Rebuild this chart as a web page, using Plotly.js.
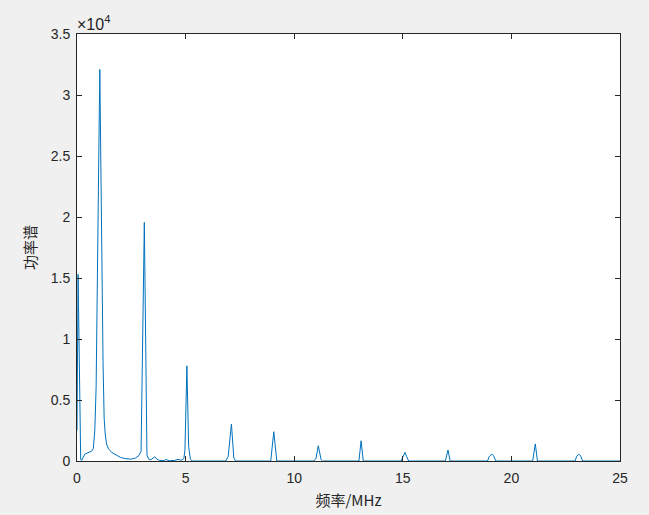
<!DOCTYPE html>
<html>
<head>
<meta charset="utf-8">
<script src="https://cdn.plot.ly/plotly-3.0.1.min.js"></script>
<style>html,body{margin:0;padding:0;background:#f0f0f0;}</style>
</head>
<body>
<div id="chart" style="width:649px;height:515px;"></div>
<script>
// Frequency (MHz)
const freq = [
  0.00, 0.05, 0.17, 0.22, 0.36, 0.52, 0.67, 0.75, 0.82, 0.88, 1.05, 1.20, 1.25, 1.30, 1.36, 1.45, 1.60, 1.75, 2.00, 2.20, 2.50, 2.70, 2.85, 2.95,
  3.10, 3.22, 3.30, 3.40, 3.50, 3.58, 3.68, 3.80, 4.00, 4.10, 4.25, 4.50, 4.65, 4.80, 4.92, 4.97,
  5.06, 5.14, 5.22, 5.30,
  6.85, 6.96, 7.11, 7.22, 7.30,
  8.92, 9.06, 9.20,
  10.90, 11.00, 11.11, 11.24, 11.30,
  12.98, 13.08, 13.18,
  14.92, 15.00, 15.10, 15.18, 15.27,
  16.96, 17.08, 17.18,
  18.90, 18.99, 19.10, 19.19, 19.28,
  20.98, 21.10, 21.20,
  22.93, 23.01, 23.10, 23.19, 23.28,
  25.00
];
// Power spectrum values
const power = [
  2500, 15300, 100, 50, 570, 700, 800, 1000, 2500, 6000, 32100, 8000, 3500, 2200, 1400, 1000, 700, 550, 300, 200, 150, 250, 450, 800,
  19560, 500, 150, 100, 200, 350, 150, 50, 30, 120, 20, 50, 130, 60, 200, 900,
  7800, 1200, 150, 0,
  0, 350, 3030, 250, 0,
  0, 2400, 0,
  0, 200, 1250, 100, 0,
  0, 1660, 0,
  0, 350, 710, 350, 0,
  0, 900, 0,
  0, 400, 570, 400, 0,
  0, 1400, 0,
  0, 400, 570, 400, 0,
  0
];
const xTicks = [0, 5, 10, 15, 20, 25];
const yTicks = [0, 5000, 10000, 15000, 20000, 25000, 30000, 35000];
const yTickText = ['0', '0.5', '1', '1.5', '2', '2.5', '3', '3.5'];

const axisColor = '#262626';
const tickFont = {family: 'Liberation Sans, Arial, sans-serif', size: 14, color: axisColor};
const expFont = {family: 'Liberation Sans, Arial, sans-serif', size: 16, color: axisColor};
const cjkFont = {family: 'Noto Sans CJK SC, sans-serif', size: 15, color: axisColor};

const trace = {
  x: freq, y: power, type: 'scatter', mode: 'lines',
  line: {color: '#0072BD', width: 1},
  hoverinfo: 'skip'
};

const layout = {
  width: 649, height: 515,
  paper_bgcolor: '#f0f0f0', plot_bgcolor: '#ffffff',
  margin: {l: 77, r: 29, t: 34, b: 54},
  showlegend: false,
  xaxis: {
    range: [0, 25], tickvals: xTicks, ticktext: xTicks.map(String),
    ticks: 'inside', ticklen: 5, tickcolor: axisColor, mirror: 'ticks',
    showline: true, linecolor: axisColor, linewidth: 1,
    showgrid: false, zeroline: false, tickfont: tickFont,
    ticklabelstandoff: 4,
    title: {text: '频率/MHz', font: cjkFont, standoff: 10}
  },
  yaxis: {
    range: [0, 35000], tickvals: yTicks, ticktext: yTickText,
    ticks: 'inside', ticklen: 5, tickcolor: axisColor, mirror: 'ticks',
    showline: true, linecolor: axisColor, linewidth: 1,
    showgrid: false, zeroline: false, tickfont: tickFont,
    ticklabelstandoff: 3,
    title: {text: '功率谱', font: cjkFont, standoff: 10}
  },
  annotations: [{
    xref: 'paper', yref: 'paper', x: 0, y: 1, xanchor: 'left', yanchor: 'bottom',
    text: '×10<sup>4</sup>', showarrow: false, font: expFont, xshift: -2, yshift: -1
  }]
};

Plotly.newPlot('chart', [trace], layout, {displayModeBar: false, staticPlot: true});
</script>
</body>
</html>
